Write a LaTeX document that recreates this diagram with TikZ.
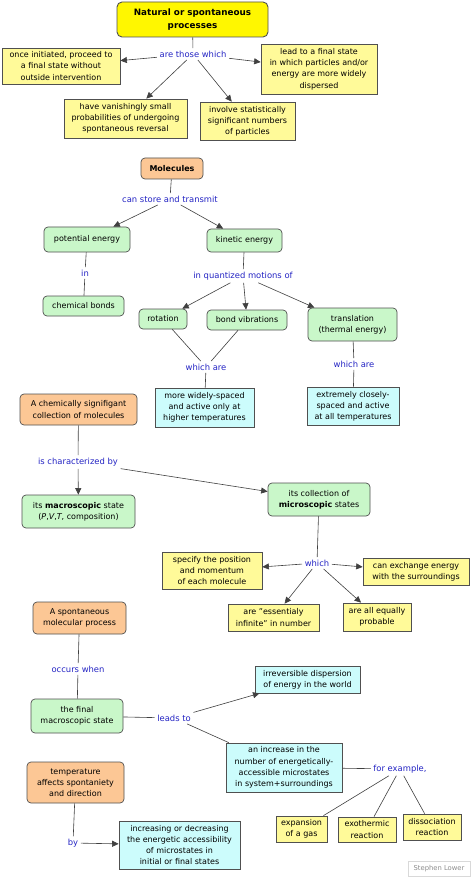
\documentclass[tikz,border=0pt]{standalone}
\usepackage{fontspec}
\setmainfont{DejaVu Sans}
\usetikzlibrary{arrows.meta}
\definecolor{cYel}{HTML}{FFFA99}
\definecolor{cTitle}{HTML}{FFF700}
\definecolor{cGreen}{HTML}{C9F7C9}
\definecolor{cCyan}{HTML}{CCFCFC}
\definecolor{cOrange}{HTML}{FCC795}
\definecolor{cBorder}{HTML}{505050}
\definecolor{cLink}{HTML}{2424C4}
\tikzset{
  box/.style={draw=cBorder, line width=0.7pt, inner sep=0pt, align=center,
    font=\fontsize{8}{11.2}\selectfont, text=black},
  ybox/.style={box, fill=cYel},
  cbox/.style={box, fill=cCyan},
  gbox/.style={box, fill=cGreen, rounded corners=4pt},
  obox/.style={box, fill=cOrange, rounded corners=4pt},
  tbox/.style={box, fill=cTitle, rounded corners=5pt, line width=0.9pt,
    font=\fontsize{8.8}{12.5}\selectfont\bfseries},
  lbl/.style={text=cLink, inner sep=2.5pt, font=\fontsize{8.4}{9}\selectfont},
  con/.style={draw=black!75, line width=0.6pt},
  arr/.style={con, -{Triangle[length=6.5pt,width=6pt]}},
  sz/.style 2 args={minimum width=#1pt, minimum height=#2pt}
}
\begin{document}
\begin{tikzpicture}[x=1pt,y=-1pt]
\useasboundingbox (0,0) rectangle (474,877);
\fill[white] (0,0) rectangle (474,877);
% concepts
\node[tbox, sz={151}{35}] (title) at (192.5,19.5) {Natural or spontaneous\\processes};
\node[ybox, sz={118}{36}] (once) at (61,66) {once initiated, proceed to\\a final state without\\outside intervention};
\node[ybox, sz={116}{50}] (lead) at (319,69) {lead to a final state\\in which particles and/or\\energy are more widely\\dispersed};
\node[ybox, sz={123}{39}] (vanish) at (125.5,118.5) {have vanishingly small\\probabilities of undergoing\\spontaneous reversal};
\node[ybox, sz={95}{38}] (involve) at (247.5,121) {involve statistically\\significant numbers\\of particles};
\node[obox, sz={62}{21}, font=\fontsize{8}{11}\selectfont\bfseries] (molec) at (172,168.5) {Molecules};
\node[gbox, sz={86}{25}] (pot) at (87,239.5) {potential energy};
\node[gbox, sz={75}{23}] (kin) at (244.5,240.5) {kinetic energy};
\node[gbox, sz={81}{20}] (chem) at (83.5,306) {chemical bonds};
\node[gbox, sz={48}{20}] (rot) at (163,319) {rotation};
\node[gbox, sz={80}{20}] (bond) at (247,320) {bond vibrations};
\node[gbox, sz={89}{33}] (trans) at (352.5,324.5) {translation\\(thermal energy)};
\node[cbox, sz={99}{39}] (morewide) at (204.5,407.5) {more widely-spaced\\and active only at\\higher temperatures};
\node[cbox, sz={92}{38}] (extreme) at (353,406) {extremely closely-\\spaced and active\\at all temperatures};
\node[obox, sz={117}{31}] (achem) at (78.5,409.5) {A chemically signifigant\\collection of molecules};
\node[gbox, sz={113}{33}] (macro) at (78.5,511.5) {its \textbf{macroscopic} state\\(\textit{P},\textit{V},\textit{T}, composition)};
\node[gbox, sz={102}{33}] (micro) at (319,499.5) {its collection of\\\textbf{microscopic} states};
\node[ybox, sz={100}{37}] (specify) at (212,570.5) {specify the position\\and momentum\\of each molecule};
\node[ybox, sz={106}{27}] (exch) at (416,571.5) {can exchange energy\\with the surroundings};
\node[ybox, sz={91}{27}] (infinite) at (273.5,617.5) {are "essentialy\\infinite" in number};
\node[ybox, sz={68}{28}] (equally) at (377,617) {are all equally\\probable};
\node[obox, sz={93}{32}] (aspont) at (79.5,618) {A spontaneous\\molecular process};
\node[gbox, sz={92}{34}] (final) at (77,716) {the final\\macroscopic state};
\node[cbox, sz={105}{27}] (irrev) at (307.5,679.5) {irreversible dispersion\\of energy in the world};
\node[cbox, sz={116}{49}] (increase) at (284,767.5) {an increase in the\\number of energetically-\\accessible microstates\\in system+surroundings};
\node[obox, sz={97}{41}] (temp) at (75.5,782.5) {temperature\\affects spontaniety\\and direction};
\node[cbox, sz={121}{48}] (increasing) at (179.5,845) {increasing or decreasing\\the energetic accessibility\\of microstates in\\initial or final states};
\node[ybox, sz={51}{26}] (expansion) at (301.5,829) {expansion\\of a gas};
\node[ybox, sz={58}{25}] (exo) at (367,829.5) {exothermic\\reaction};
\node[ybox, sz={58}{26}] (diss) at (432,827) {dissociation\\reaction};
\node[draw=black!15, line width=0.6pt, inner sep=0pt, sz={62}{15}, text=black!45, font=\fontsize{6.8}{8}\selectfont] (mark) at (439,868.5) {Stephen Lower};
% linking phrases
\node[lbl] (l1) at (193,54) {are those which};
\node[lbl] (l2) at (170,199) {can store and transmit};
\node[lbl] (l3) at (85,273) {in};
\node[lbl] (l4) at (243,276) {in quantized motions of};
\node[lbl] (l5) at (206,367) {which are};
\node[lbl] (l6) at (354,364) {which are};
\node[lbl] (l7) at (78,462) {is characterized by};
\node[lbl] (l8) at (317,563) {which};
\node[lbl] (l9) at (78,669) {occurs when};
\node[lbl] (l10) at (174,718) {leads to};
\node[lbl] (l11) at (400,769) {for example,};
\node[lbl] (l12) at (73,843) {by};
% connectors
\draw[con] (title) -- (l1);
\draw[arr] (l1) -- (once);
\draw[arr] (l1) -- (lead);
\draw[arr] (l1) -- (vanish);
\draw[arr] (l1) -- (involve);
\draw[con] (molec) -- (l2);
\draw[arr] (l2) -- (pot);
\draw[arr] (l2) -- (kin);
\draw[con] (pot) -- (l3);
\draw[con] (l3) -- (chem);
\draw[con] (kin) -- (l4);
\draw[arr] (l4) -- (rot);
\draw[arr] (l4) -- (bond);
\draw[arr] (l4) -- (trans);
\draw[con] (rot) -- (l5);
\draw[con] (bond) -- (l5);
\draw[con] (l5) -- (morewide);
\draw[con] (trans) -- (l6);
\draw[con] (l6) -- (extreme);
\draw[con] (achem) -- (l7);
\draw[arr] (l7) -- (macro);
\draw[arr] (l7) -- (micro);
\draw[con] (micro) -- (l8);
\draw[arr] (l8) -- (specify);
\draw[arr] (l8) -- (exch);
\draw[arr] (l8) -- (infinite);
\draw[arr] (l8) -- (equally);
\draw[con] (aspont) -- (l9);
\draw[con] (l9) -- (final);
\draw[con] (final) -- (l10);
\draw[arr] (l10) -- (irrev);
\draw[con] (l10) -- (increase);
\draw[con] (increase) -- (l11);
\draw[con] (l11) -- (expansion);
\draw[con] (l11) -- (exo);
\draw[con] (l11) -- (diss);
\draw[con] (temp) -- (l12);
\draw[arr] (l12) -- (increasing);
\end{tikzpicture}
\end{document}
